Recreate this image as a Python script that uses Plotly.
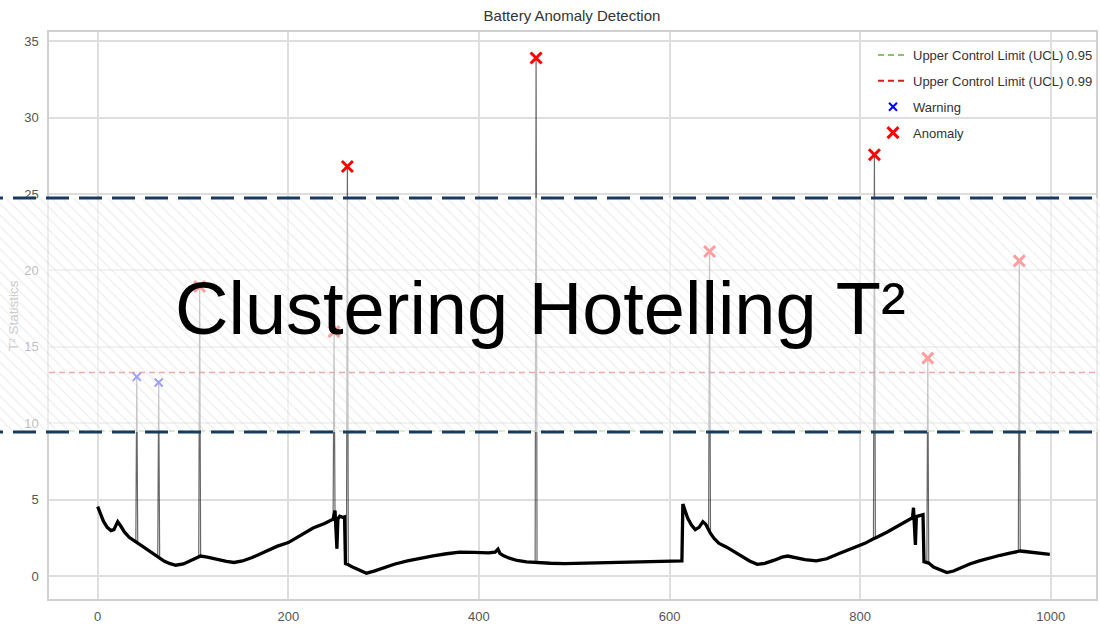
import plotly.graph_objects as go

W, H = 1100, 630

# ---- data ----
t_index = [
    0, 3, 6, 10, 14, 17, 21, 24, 28, 33, 37, 40, 41, 42, 46, 52, 58, 63, 64, 65,
    70, 76, 82, 90, 98, 106, 107, 108, 115, 125, 135, 143, 152, 162, 175, 188,
    200, 213, 226, 238, 247, 248, 249, 250, 251, 252, 254, 257, 259, 260, 261,
    262, 263,
    268, 275, 282, 290, 300, 312, 325, 338, 352, 366, 380, 395, 410, 417, 420,
    422, 426, 432, 440, 450, 459, 460, 461, 475, 490, 505, 520, 535, 550, 565,
    580, 595, 605, 613,
    614, 616, 619, 623, 627, 631, 635, 638, 641, 642, 643, 647, 652, 660, 668,
    676, 684, 692, 700, 710, 718, 724, 732, 742, 754, 765, 778, 792, 805, 814,
    815, 816, 828, 840, 850, 855, 856, 857, 858, 859, 863, 866, 867, 870, 871,
    872,
    877, 884, 891, 898, 906, 915, 925, 936, 947, 956, 966, 967, 968, 975, 983,
    991, 999,
]
t2_value = [
    4.55, 4.1, 3.6, 3.2, 2.98, 3.05, 3.57, 3.3, 2.9, 2.55, 2.35, 2.2, 13.04, 2.16, 2.0, 1.75, 1.5, 1.25, 12.67, 1.18,
    0.98, 0.82, 0.72, 0.8, 1.05, 1.3, 18.95, 1.32, 1.25, 1.1, 0.97, 0.9, 1.0, 1.22, 1.58, 1.95,
    2.2, 2.7, 3.15, 3.45, 3.73, 16.0, 4.3, 2.9, 1.8, 3.75, 3.92, 3.85, 3.88, 0.82, 0.8,
    26.8, 0.75,
    0.58, 0.38, 0.2, 0.33, 0.55, 0.8, 1.0, 1.18, 1.33, 1.47, 1.57, 1.56, 1.53, 1.58, 1.77,
    1.5, 1.33, 1.18, 1.03, 0.94, 0.9, 33.9, 0.9, 0.85, 0.82, 0.84, 0.85, 0.88, 0.91, 0.94,
    0.97, 0.99, 1.0, 1.01,
    4.72, 4.3, 3.8, 3.35, 3.05, 3.2, 3.57, 3.4, 3.0, 21.24, 2.8, 2.45, 2.15, 1.9, 1.6,
    1.3, 1.0, 0.78, 0.84, 1.05, 1.25, 1.32, 1.2, 1.08, 1.0, 1.14, 1.48, 1.83, 2.15, 2.45,
    27.57, 2.5, 2.88, 3.33, 3.68, 3.83, 4.48, 3.0, 2.05, 3.9, 3.95, 4.03, 0.95, 0.9, 14.27,
    0.86,
    0.6, 0.4, 0.24, 0.34, 0.55, 0.8, 1.0, 1.2, 1.37, 1.5, 1.65, 20.63, 1.65, 1.6, 1.55,
    1.5, 1.43,
]

UCL_95 = 9.5
UCL_99 = 13.32

x_ticks = [0, 200, 400, 600, 800, 1000]
y_ticks = [0, 5, 10, 15, 20, 25, 30, 35]

title_text = "Battery Anomaly Detection"
y_title = "T² Statistics"
overlay_text = "Clustering Hotelling T²"
legend_names = ["Upper Control Limit (UCL) 0.95", "Upper Control Limit (UCL) 0.99", "Warning", "Anomaly"]

# ---- classification from the series ----
normal_t = [t for t, v in zip(t_index, t2_value) if v < UCL_95]
normal_v = [v for v in t2_value if v < UCL_95]
warn_t = [t for t, v in zip(t_index, t2_value) if UCL_95 <= v <= UCL_99]
warn_v = [v for v in t2_value if UCL_95 <= v <= UCL_99]
anom_t = [t for t, v in zip(t_index, t2_value) if v > UCL_99]
anom_v = [v for v in t2_value if v > UCL_99]

FONT = "Liberation Sans, Arial, sans-serif"
GREEN = "#86c46a"
RED = "#d81e1e"

fig = go.Figure()

fig.add_trace(go.Scatter(
    x=t_index, y=t2_value, mode="lines",
    line=dict(color="rgba(40,40,40,0.7)", width=1.2),
    showlegend=False, hoverinfo="skip"))
fig.add_trace(go.Scatter(
    x=normal_t, y=normal_v, mode="lines",
    line=dict(color="black", width=3.3),
    showlegend=False, hoverinfo="skip"))

fig.add_trace(go.Scatter(
    x=[None], y=[None], mode="lines", name=legend_names[0], legendgroup="g1",
    line=dict(color=GREEN, width=2, dash="6px,4px")))
fig.add_trace(go.Scatter(
    x=[None], y=[None], mode="lines", name=legend_names[1], legendgroup="g2",
    line=dict(color=RED, width=2, dash="6px,4px")))
fig.add_trace(go.Scatter(
    x=warn_t, y=warn_v, mode="markers", name=legend_names[2], legendgroup="g3",
    marker=dict(symbol="x-thin", size=8, color="blue", line=dict(color="blue", width=2))))
fig.add_trace(go.Scatter(
    x=anom_t, y=anom_v, mode="markers", name=legend_names[3], legendgroup="g4",
    marker=dict(symbol="x-thin", size=11, color="red", line=dict(color="red", width=3))))

# overlay band (figure-wide layer)
band_lo = 1 - 432 / H
band_hi = 1 - 198 / H
fig.add_trace(go.Scatter(
    x=[0, 1, 1, 0, 0], y=[band_lo, band_lo, band_hi, band_hi, band_lo],
    xaxis="x2", yaxis="y2", mode="lines", line=dict(width=0),
    fill="toself", fillcolor="rgba(255,255,255,0.62)",
    fillpattern=dict(shape="\\", fgcolor="rgba(185,185,185,0.6)",
                     bgcolor="rgba(255,255,255,0.62)", size=8, solidity=0.13),
    showlegend=False, hoverinfo="skip"))

fig.add_shape(type="line", xref="x domain", yref="y", x0=0, x1=1, y0=UCL_95, y1=UCL_95,
              line=dict(color=GREEN, width=1.5, dash="6px,4px"), layer="below")
fig.add_shape(type="line", xref="x domain", yref="y", x0=0, x1=1, y0=UCL_99, y1=UCL_99,
              line=dict(color=RED, width=1.5, dash="6px,4px"), layer="below")

for yy in (band_hi, band_lo):
    fig.add_shape(type="line", xref="paper", yref="paper", x0=-20 / W, x1=1, y0=yy, y1=yy,
                  line=dict(color="#173a5e", width=3, dash="23px,10px"), layer="above")

fig.add_annotation(text=overlay_text, xref="paper", yref="paper",
                   x=540 / W, y=1 - 308 / H, xanchor="center", yanchor="middle",
                   showarrow=False, font=dict(family="Liberation Sans, Arial, sans-serif",
                                              size=74, color="black"))
fig.add_annotation(text=y_title, xref="paper", yref="paper", x=13 / W, y=1 - 316 / H,
                   xanchor="center", yanchor="middle", textangle=-90, showarrow=False,
                   font=dict(family=FONT, size=13.5, color="#cdcdcd"))

axis_common = dict(showgrid=True, gridcolor="#dedede", gridwidth=1.5, zeroline=False,
                   showline=True, mirror=True, linecolor="#d0d0d0", linewidth=1.5,
                   ticks="", automargin=False,
                   tickfont=dict(family=FONT, size=13, color="#555555"))

fig.update_layout(
    width=W, height=H, autosize=False,
    margin=dict(l=0, r=0, t=0, b=0, autoexpand=False),
    paper_bgcolor="white", plot_bgcolor="rgba(0,0,0,0)",
    title=dict(text=title_text, x=572 / W, xanchor="center", y=1 - 16 / H, yanchor="middle",
               yref="container", font=dict(family=FONT, size=15, color="#333333")),
    xaxis=dict(domain=[49 / W, 1096 / W], range=[-51.1, 1047.5], tickvals=x_ticks,
               ticklabelstandoff=5, **axis_common),
    yaxis=dict(domain=[1 - 599 / H, 1 - 32 / H], range=[-1.49, 35.6], tickvals=y_ticks,
               ticklabelstandoff=6, **axis_common),
    xaxis2=dict(domain=[0, 1], range=[0, 1], visible=False, anchor="y2", fixedrange=True),
    yaxis2=dict(domain=[0, 1], range=[0, 1], visible=False, anchor="x2", fixedrange=True),
    legend=dict(x=873 / W, xanchor="left", y=1 - 40 / H, yanchor="top",
                bgcolor="rgba(0,0,0,0)", traceorder="grouped", tracegroupgap=6,
                font=dict(family=FONT, size=13, color="#333333")),
    showlegend=True,
)

fig.write_html(
    "out.html",
    config={"displayModeBar": False},
    post_script="document.body.style.margin='0';document.body.style.overflow='hidden';"
                "document.documentElement.style.overflow='hidden';",
)
